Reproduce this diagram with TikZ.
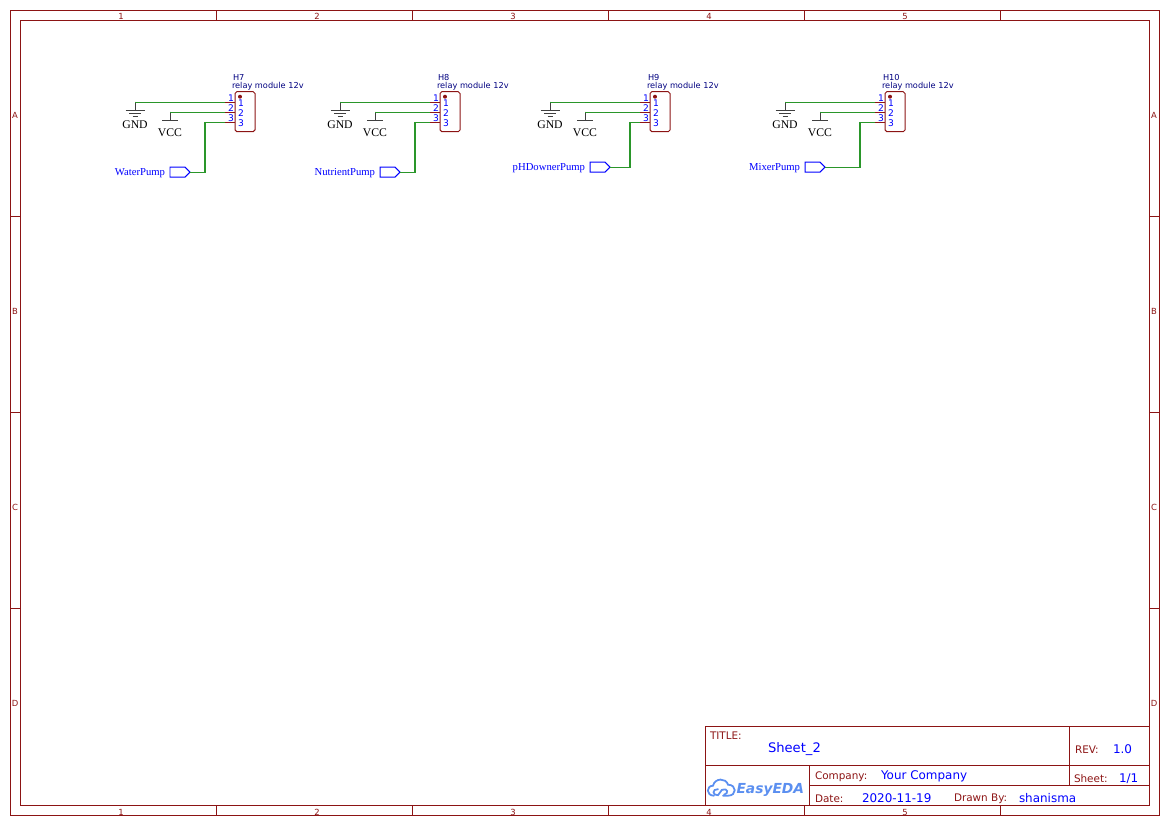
\documentclass[tikz,border=0pt]{standalone}
\usepackage{fontspec}
\setmainfont{DejaVu Sans}
\newfontfamily\serifnet{Liberation Serif}
\usepackage{tikz}
\definecolor{framered}{HTML}{8C1414}
\definecolor{wiregreen}{HTML}{2A962A}
\definecolor{partnavy}{HTML}{000080}
\definecolor{logoblue}{HTML}{5B8FF0}
\newcommand{\sz}[1]{\fontsize{#1}{#1}\selectfont}

\begin{document}
\begin{tikzpicture}[x=0.03cm, y=-0.03cm,
	every node/.style={inner sep=0pt, outer sep=0pt},
	frameline/.style={draw=framered, line width=0.85pt},
	wire/.style={draw=wiregreen, line width=1pt},
	pinline/.style={draw=framered, line width=0.85pt},
	netline/.style={draw=black!75, line width=0.85pt},
	flag/.style={draw=blue, line width=0.85pt},
	ticktext/.style={text=framered, font=\sz{7.2pt}},
	titlekey/.style={text=framered, font=\sz{8.9pt}, anchor=west},
	titleval/.style={text=blue, font=\sz{10.2pt}, anchor=west},
	parttext/.style={text=partnavy, font=\sz{7pt}, anchor=west},
	pintext/.style={text=blue, font=\sz{7.8pt}},
	nettext/.style={text=black, font=\serifnet\sz{10pt}},
	flagtext/.style={text=blue, font=\serifnet\sz{9.1pt}, anchor=east}]
	\useasboundingbox (0,0.3) rectangle (1169,827.3);

	\draw[frameline] (10,11) rectangle (1159,816);
	\draw[frameline] (20,21) rectangle (1149,806);
	\foreach \tx in {216,412,608,804,1000} {
		\draw[frameline] (\tx,11) -- (\tx,21);
		\draw[frameline] (\tx,806) -- (\tx,816);
	}
	\foreach \ty in {217,413,609} {
		\draw[frameline] (10,\ty) -- (20,\ty);
		\draw[frameline] (1149,\ty) -- (1159,\ty);
	}
	\foreach \lab/\tx in {1/121,2/317,3/513,4/709,5/905} {
		\node[ticktext] (top\lab) at (\tx,16.5) {\lab};
		\node[ticktext] (bot\lab) at (\tx,812.5) {\lab};
	}
	\foreach \lab/\ty in {A/116,B/312,C/508,D/704} {
		\node[ticktext] (left\lab) at (15,\ty) {\lab};
		\node[ticktext] (right\lab) at (1154,\ty) {\lab};
	}

	\foreach \part/\boxx/\gndx/\wirex/\flagx/\flagy/\net in {
		H7/235/135/205/190/172.4/WaterPump,
		H8/440/340/415/400/172.4/NutrientPump,
		H9/650/550/630/610/167.4/pHDownerPump,
		H10/885/785/860/825/167.4/MixerPump} {
		\draw[pinline, rounded corners=1.5pt] (\boxx,92) rectangle ++(20,40);
		\node[circle, fill=framered, minimum size=3.4pt] (dot\part) at (\boxx+5,97) {};
		\node[parttext] (ref\part) at (\boxx-2,77.5) {\part};
		\node[parttext] (val\part) at (\boxx-3,87) {relay module 12v};
		\foreach \n in {1,2,3} {
			\coordinate (pin\part\n) at (\boxx,92.4+10*\n);
			\coordinate (end\part\n) at (\boxx-10,92.4+10*\n);
			\draw[pinline] (pin\part\n) -- (end\part\n);
			\node[pintext] (in\part\n) at (\boxx+6,93.5+10*\n) {\n};
			\node[pintext] (out\part\n) at (\boxx-4,88.5+10*\n) {\n};
		}
		% power nets
		\coordinate (gnd\part) at (\gndx,110.5);
		\coordinate (vcc\part) at (\gndx+35,121);
		\draw[netline] (\gndx,102) -- (gnd\part);
		\draw[netline] (\gndx+35,112) -- (vcc\part);
		\draw[netline] (\gndx-9.5,110.5) -- (\gndx+9.5,110.5);
		\draw[netline] (\gndx-6,113.5) -- (\gndx+6,113.5);
		\draw[netline] (\gndx-2.5,116.5) -- (\gndx+2.5,116.5);
		\draw[netline] (\gndx+27,121) -- (\gndx+43,121);
		\node[nettext] (gndtext\part) at (\gndx,125) {GND};
		\node[nettext] (vcctext\part) at (\gndx+35,133.5) {VCC};
		\draw[wire] (end\part1) -- (\gndx,102.4);
		\draw[wire] (end\part2) -- (\gndx+35,112.4);
		% net flag
		\coordinate (tip\part) at (\flagx,\flagy);
		\draw[flag] (tip\part) -- ++(-5,-5) -- ++(-15,0) -- ++(0,10) -- ++(15,0) -- cycle;
		\node[flagtext] (flagtext\part) at (\flagx-25,\flagy+1.1) {\net};
		\draw[wire] (end\part3) -- (\wirex,122.4) -- (\wirex,\flagy) -- (tip\part);
	}

	\draw[frameline] (705,727) rectangle (1149,806);
	\draw[frameline] (705,766) -- (1149,766);
	\draw[frameline] (809,786) -- (1149,786);
	\draw[frameline] (1069,727) -- (1069,786);
	\draw[frameline] (809,766) -- (809,806);

	\node[titlekey] (titlekey) at (710,736) {TITLE:};
	\node[titleval, font=\sz{11.2pt}] (titleval) at (768,749.5) {Sheet\_2};
	\node[titlekey] (revkey) at (1075,750) {REV:};
	\node[titleval] (revval) at (1113,749.5) {1.0};
	\node[titlekey] (companykey) at (815,777.5) {Company:};
	\node[titleval] (companyval) at (881,777) {Your Company};
	\node[titlekey] (sheetkey) at (1074,778.5) {Sheet:};
	\node[titleval] (sheetval) at (1119,778.5) {1/1};
	\node[titlekey] (datekey) at (815,799) {Date:};
	\node[titleval] (dateval) at (862,798.5) {2020-11-19};
	\node[titlekey] (drawnkey) at (954,799) {Drawn By:};
	\node[titleval] (drawnval) at (1019,798.5) {shanisma};

	% logo
	\draw[draw=logoblue, line width=1.5pt, line cap=round]
		(714,796) .. controls (706,796) and (706,786) .. (713,786)
		.. controls (715,778) and (726,778) .. (728,785)
		.. controls (737,785) and (737,796) .. (728,796) -- (723,796);
	\draw[draw=logoblue, line width=1.5pt, line cap=round]
		(718,789.5) .. controls (712,789) and (712,796) .. (718,795.5) -- (722,790);
	\draw[draw=logoblue, line width=1.5pt, line cap=round]
		(722,790) .. controls (728,788) and (729,794) .. (724,795);
	\node[text=logoblue, font=\bfseries\itshape\sz{11.8pt}, anchor=west] (logotext) at (736.5,790) {EasyEDA};
\end{tikzpicture}
\end{document}
